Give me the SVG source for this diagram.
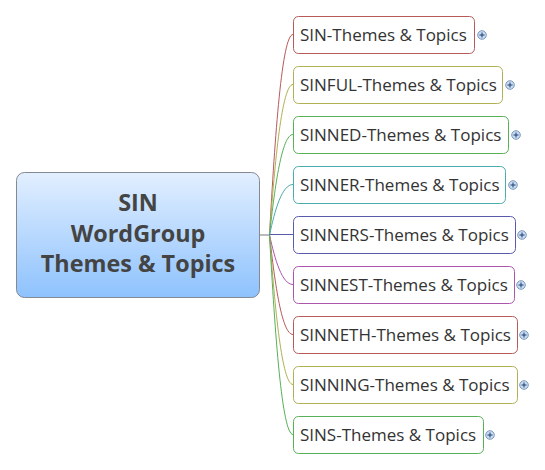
<svg xmlns="http://www.w3.org/2000/svg" width="545" height="470" viewBox="0 0 545 470">
<defs>
<linearGradient id="cg" x1="0" y1="0" x2="0" y2="1">
<stop offset="0" stop-color="#e2efff"/>
<stop offset="1" stop-color="#8ec2fd"/>
</linearGradient>
<g id="plus">
<circle r="4.3" fill="#c9dcf1" stroke="#6f8fb8" stroke-width="0.9"/>
<path d="M-2.5 0H2.5M0 -2.5V2.5" stroke="#1f3f70" stroke-width="1"/>
</g>
</defs>
<style>
.n{fill:#fff;stroke-width:1}
.t{font-family:"Open Sans","DejaVu Sans",sans-serif;font-size:17px;fill:#333}
.ct{font-family:"Open Sans","DejaVu Sans",sans-serif;font-size:23.4px;font-weight:bold;fill:#444;text-anchor:middle}
.c{fill:none;stroke-width:1}
</style>
<rect width="545" height="470" fill="#fff"/>
<g id="connectors">
<path class="c" stroke="#777" d="M260 235H269.5"/>
<path class="c" stroke="#b85a5a" d="M269.5 235C275 134.75 282 34.5 293 34.5"/>
<path class="c" stroke="#b0b055" d="M269.5 235C275 159.75 282 84.5 293 84.5"/>
<path class="c" stroke="#58b058" d="M269.5 235C275 184.75 282 134.5 293 134.5"/>
<path class="c" stroke="#4aacac" d="M269.5 235C275 209.75 282 184.5 293 184.5"/>
<path class="c" stroke="#5a5aac" d="M269.5 234.5H293"/>
<path class="c" stroke="#ac55ac" d="M269.5 235C275 259.75 282 284.5 293 284.5"/>
<path class="c" stroke="#b85a5a" d="M269.5 235C275 284.75 282 334.5 293 334.5"/>
<path class="c" stroke="#b0b055" d="M269.5 235C275 309.75 282 384.5 293 384.5"/>
<path class="c" stroke="#58b058" d="M269.5 235C275 334.75 282 434.5 293 434.5"/>
</g>
<g id="central">
<rect x="16.5" y="172.5" width="243" height="125" rx="8" fill="url(#cg)" stroke="#858a92"/>
<text class="ct" x="138" y="211">SIN</text>
<text class="ct" x="138" y="241.5">WordGroup</text>
<text class="ct" x="138" y="272">Themes &amp; Topics</text>
</g>
<g id="n1"><rect class="n" x="293.5" y="16.5" width="181" height="37" rx="5" stroke="#b85a5a"/><text class="t" x="300" y="40.5">SIN-Themes &amp; Topics</text><use href="#plus" x="482" y="35"/></g>
<g id="n2"><rect class="n" x="293.5" y="66.5" width="209" height="37" rx="5" stroke="#b0b055"/><text class="t" x="300" y="90.5">SINFUL-Themes &amp; Topics</text><use href="#plus" x="510" y="85"/></g>
<g id="n3"><rect class="n" x="293.5" y="116.5" width="215" height="37" rx="5" stroke="#58b058"/><text class="t" x="300" y="140.5">SINNED-Themes &amp; Topics</text><use href="#plus" x="516" y="135"/></g>
<g id="n4"><rect class="n" x="293.5" y="166.5" width="212" height="37" rx="5" stroke="#4aacac"/><text class="t" x="300" y="190.5">SINNER-Themes &amp; Topics</text><use href="#plus" x="513" y="185"/></g>
<g id="n5"><rect class="n" x="293.5" y="216.5" width="222" height="37" rx="5" stroke="#5a5aac"/><text class="t" x="300" y="240.5">SINNERS-Themes &amp; Topics</text><use href="#plus" x="522" y="235"/></g>
<g id="n6"><rect class="n" x="293.5" y="266.5" width="221" height="37" rx="5" stroke="#ac55ac"/><text class="t" x="300" y="290.5">SINNEST-Themes &amp; Topics</text><use href="#plus" x="521" y="285"/></g>
<g id="n7"><rect class="n" x="293.5" y="316.5" width="224" height="37" rx="5" stroke="#b85a5a"/><text class="t" x="300" y="340.5">SINNETH-Themes &amp; Topics</text><use href="#plus" x="524" y="335"/></g>
<g id="n8"><rect class="n" x="293.5" y="366.5" width="224" height="37" rx="5" stroke="#b0b055"/><text class="t" x="300" y="390.5">SINNING-Themes &amp; Topics</text><use href="#plus" x="524" y="385"/></g>
<g id="n9"><rect class="n" x="293.5" y="416.5" width="190" height="37" rx="5" stroke="#58b058"/><text class="t" x="300" y="440.5">SINS-Themes &amp; Topics</text><use href="#plus" x="490" y="435"/></g>
</svg>
